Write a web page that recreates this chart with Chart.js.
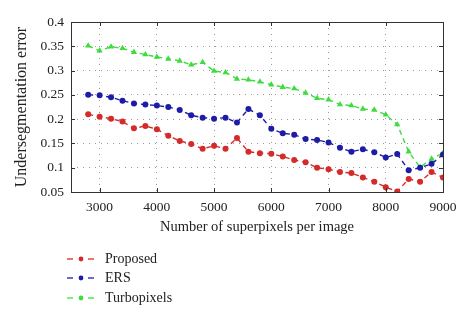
<!DOCTYPE html>
<html>
<head>
<meta charset="utf-8">
<script src="https://cdn.jsdelivr.net/npm/chart.js@4/dist/chart.umd.min.js"></script>
<style>
  html,body{margin:0;padding:0;background:#fff;}
  #wrap{position:relative;width:474px;height:321px;}
  #legend{position:absolute;left:66px;top:249px;font-family:"Liberation Serif","DejaVu Serif",serif;font-size:14px;color:#222;}
  .row{display:flex;align-items:center;height:19.6px;}
  .row svg{width:30px;height:10px;margin-right:9px;}
</style>
</head>
<body>
<div id="wrap">
  <canvas id="c" width="474" height="321"></canvas>
  <div id="legend"></div>
</div>
<script>
// ---- data ----
const superpixels = [2800,3000,3200,3400,3600,3800,4000,4200,4400,4600,4800,5000,5200,5400,5600,5800,
                     6000,6200,6400,6600,6800,7000,7200,7400,7600,7800,8000,8200,8400,8600,8800,9000];
const proposed = [0.210,0.205,0.201,0.195,0.181,0.186,0.179,0.166,0.155,0.149,0.139,0.145,0.139,0.161,0.133,0.130,
                  0.129,0.123,0.116,0.111,0.100,0.097,0.091,0.089,0.080,0.071,0.060,0.051,0.077,0.071,0.091,0.080];
const ers = [0.250,0.249,0.245,0.238,0.232,0.230,0.228,0.225,0.219,0.208,0.203,0.201,0.203,0.193,0.221,0.208,
             0.180,0.171,0.168,0.159,0.157,0.152,0.141,0.133,0.138,0.132,0.121,0.128,0.095,0.100,0.108,0.127];
const turbopixels = [0.351,0.341,0.349,0.346,0.338,0.333,0.328,0.324,0.320,0.312,0.317,0.299,0.296,0.283,0.281,0.277,
                     0.271,0.266,0.263,0.254,0.243,0.240,0.230,0.228,0.221,0.219,0.209,0.189,0.133,0.101,0.118,0.130];
const seriesNames = ["Proposed","ERS","Turbopixels"];
const xTicks = [3000,4000,5000,6000,7000,8000,9000];
const yTicks = [0.05,0.1,0.15,0.2,0.25,0.3,0.35,0.4];
const yTickLabels = ["0.05","0.1","0.15","0.2","0.25","0.3","0.35","0.4"];

const colors = ["#d42a2a","#1c1ca6","#3fdc3f"];
const shapes = ["circle","circle","triangle"];
const seriesValues = [proposed, ers, turbopixels];

const SERIF = '"Liberation Serif","DejaVu Serif",serif';

const datasets = seriesValues.map((vals,i)=>({
  label: seriesNames[i],
  data: superpixels.map((x,j)=>({x:x,y:vals[j]})),
  borderColor: colors[i],
  backgroundColor: colors[i],
  borderWidth: 1.4,
  borderDash: [5,4],
  pointStyle: shapes[i],
  pointRadius: i===2 ? 3.6 : 3,
  pointBorderWidth: 0,
  tension: 0,
  fill: false
}));

const framePlugin = {
  id:'frame',
  afterDraw(chart){
    const {ctx, chartArea:a, scales:{x,y}} = chart;
    ctx.save();
    ctx.strokeStyle = '#333';
    ctx.lineWidth = 1;
    ctx.strokeRect(Math.round(a.left)+0.5, Math.round(a.top)+0.5, Math.round(a.right-a.left), Math.round(a.bottom-a.top));
    const L = 4;
    ctx.beginPath();
    x.ticks.forEach(t=>{
      const px = Math.round(x.getPixelForValue(t.value))+0.5;
      ctx.moveTo(px,a.bottom); ctx.lineTo(px,a.bottom-L);
      ctx.moveTo(px,a.top); ctx.lineTo(px,a.top+L);
    });
    y.ticks.forEach(t=>{
      const py = Math.round(y.getPixelForValue(t.value))+0.5;
      ctx.moveTo(a.left,py); ctx.lineTo(a.left+L,py);
      ctx.moveTo(a.right,py); ctx.lineTo(a.right-L,py);
    });
    ctx.stroke();
    ctx.restore();
  }
};

new Chart(document.getElementById('c'), {
  type:'line',
  data:{datasets},
  options:{
    responsive:false,
    animation:false,
    layout:{padding:{left:0,right:31,top:22,bottom:81}},
    plugins:{legend:{display:false},tooltip:{enabled:false}},
    scales:{
      x:{
        type:'linear', min:2500, max:9000,
        afterBuildTicks(s){ s.ticks = xTicks.map(v=>({value:v})); },
        afterFit(s){ s.height = 48; },
        grid:{color:'#999', lineWidth:1, drawTicks:false},
        border:{display:false, dash:[1,5]},
        ticks:{padding:7, color:'#222', font:{family:SERIF,size:13.5}, maxRotation:0,
               callback:(v)=>String(v)},
        title:{display:true, text:'Number of superpixels per image', color:'#222',
               font:{family:SERIF,size:14.5}, padding:{top:0,bottom:4}}
      },
      y:{
        type:'linear', min:0.05, max:0.4,
        afterBuildTicks(s){ s.ticks = yTicks.map(v=>({value:v})); },
        afterFit(s){ s.width = 71; },
        grid:{color:'#999', lineWidth:1, drawTicks:false},
        border:{display:false, dash:[1,5]},
        ticks:{padding:7, color:'#222', font:{family:SERIF,size:13.5},
               callback:(v,i)=>yTickLabels[i]},
        title:{display:true, text:'Undersegmentation error', color:'#222',
               font:{family:SERIF,size:16}, padding:{top:12,bottom:0}}
      }
    }
  },
  plugins:[framePlugin]
});

// HTML legend built from the series
const lg = document.getElementById('legend');
seriesNames.forEach((name,i)=>{
  const row = document.createElement('div');
  row.className='row';
  row.innerHTML = `<svg viewBox="0 0 30 10"><line x1="1" y1="5" x2="7" y2="5" stroke="${colors[i]}" stroke-width="1.3"/>`+
    `<circle cx="15" cy="5" r="2.4" fill="${colors[i]}"/>`+
    `<line x1="22" y1="5" x2="28" y2="5" stroke="${colors[i]}" stroke-width="1.3"/></svg><span>${name}</span>`;
  lg.appendChild(row);
});
</script>
</body>
</html>
